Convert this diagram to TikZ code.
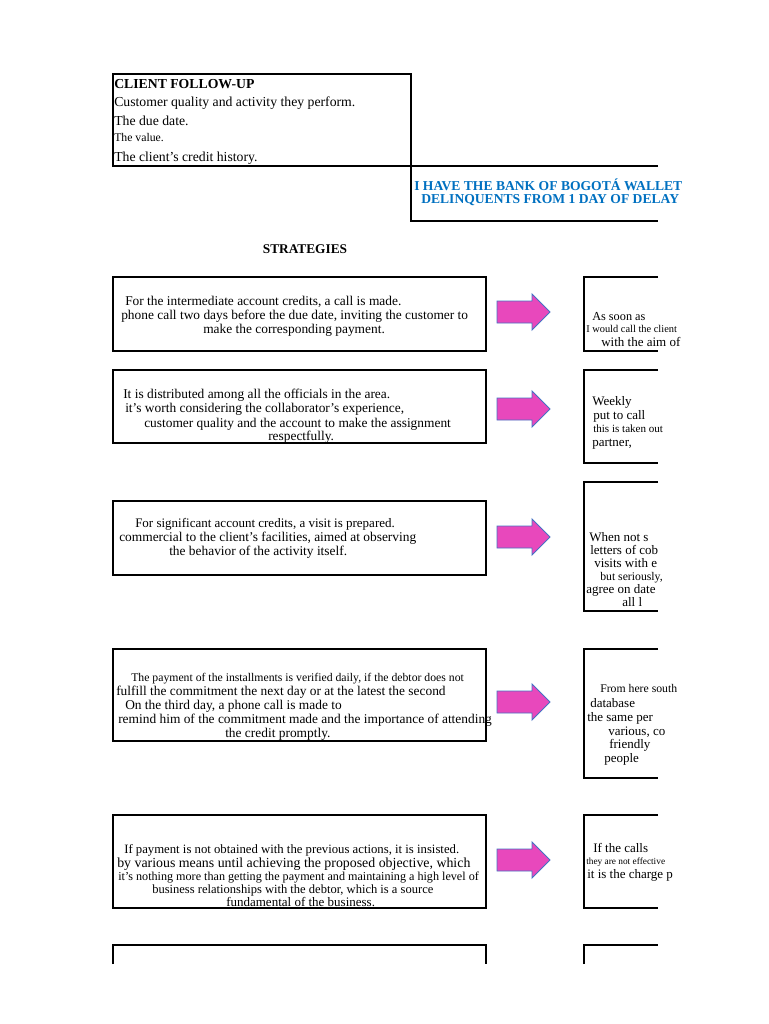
\documentclass[tikz,border=0pt]{standalone}
\usepackage{fontspec}
\setmainfont{Liberation Serif}
\definecolor{bankblue}{RGB}{0,112,192}
\definecolor{arrowfill}{RGB}{232,72,188}
\definecolor{arrowline}{RGB}{68,114,196}
\tikzset{
  box/.style={line width=1.6pt},
  txt/.style={anchor=base west, inner sep=0pt, font=\fontsize{9.75}{10}\selectfont},
  rowtxt/.style={txt, font=\fontsize{10.05}{11}\selectfont},
  smalltxt/.style={txt, font=\fontsize{8.8}{9}\selectfont},
  tinytxt/.style={txt, font=\fontsize{7}{8}\selectfont},
  headtxt/.style={txt, font=\fontsize{10.3}{11}\selectfont\bfseries},
  banktxt/.style={txt, text=bankblue, font=\fontsize{10.2}{11}\selectfont\bfseries},
  pinkarrow/.pic={\draw[arrowline, fill=arrowfill, line width=0.7pt]
    (0,-11) -- (35,-11) -- (35,-18) -- (53,0) -- (35,18) -- (35,11) -- (0,11) -- cycle;}
}
\begin{document}
\begin{tikzpicture}[x=0.75pt,y=-0.75pt]
\useasboundingbox (0,0) rectangle (768,1024);
% client follow-up
\draw[box] (113,74) rectangle (411,166);
\node[headtxt] (cf1) at (114,89) {CLIENT FOLLOW-UP};
\node[txt, font=\fontsize{10.3}{11}\selectfont] (cf2) at (114,107) {Customer quality and activity they perform.};
\node[txt, font=\fontsize{10.3}{11}\selectfont] (cf3) at (114,125) {The due date.};
\node[smalltxt] (cf4) at (114,142) {The value.};
\node[txt, font=\fontsize{10.3}{11}\selectfont] (cf5) at (114,161) {The client's credit history.};
% bank
\draw[box] (658,166) -- (411,166) -- (411,221) -- (658,221);
\node[banktxt] (bk1) at (414,190) {I HAVE THE BANK OF BOGOTÁ WALLET};
\node[banktxt] (bk2) at (421,203) {DELINQUENTS FROM 1 DAY OF DELAY};
\node[headtxt, anchor=base, font=\fontsize{10}{11}\selectfont\bfseries] (str) at (305,253) {STRATEGIES};
% strategy boxes
\draw[box] (113,277) rectangle (486,351);
\draw[box] (113,370) rectangle (486,443);
\draw[box] (113,501) rectangle (486,575);
\draw[box] (113,649) rectangle (486,741);
\draw[box] (113,815) rectangle (486,908);
\draw[box] (113,964) -- (113,945) -- (486,945) -- (486,964);
% action boxes, cut at the page edge
\draw[box] (658,277) -- (584,277) -- (584,351) -- (658,351);
\draw[box] (658,370) -- (584,370) -- (584,463) -- (658,463);
\draw[box] (658,482) -- (584,482) -- (584,611) -- (658,611);
\draw[box] (658,649) -- (584,649) -- (584,778) -- (658,778);
\draw[box] (658,815) -- (584,815) -- (584,908) -- (658,908);
\draw[box] (584,964) -- (584,945) -- (658,945);
% arrows
\pic at (497,312) {pinkarrow};
\pic at (497,409) {pinkarrow};
\pic at (497,537) {pinkarrow};
\pic at (497,702) {pinkarrow};
\pic at (497,860) {pinkarrow};
% row 1
\node[rowtxt] (s1a) at (125,305) {For the intermediate account credits, a call is made.};
\node[rowtxt] (s1b) at (121,319) {phone call two days before the due date, inviting the customer to};
\node[rowtxt] (s1c) at (203,333) {make the corresponding payment.};
\node[smalltxt, font=\fontsize{9.2}{10}\selectfont] (a1a) at (592,320) {As soon as};
\node[tinytxt, font=\fontsize{7.8}{8}\selectfont] (a1b) at (586,332) {I would call the client};
\node[txt] (a1c) at (601,346) {with the aim of};
% row 2
\node[rowtxt] (s2a) at (123,398) {It is distributed among all the officials in the area.};
\node[rowtxt] (s2b) at (125,412) {it's worth considering the collaborator's experience,};
\node[rowtxt] (s2c) at (144,427) {customer quality and the account to make the assignment};
\node[rowtxt] (s2d) at (268,440) {respectfully.};
\node[txt] (a2a) at (592,405) {Weekly};
\node[txt] (a2b) at (593,419) {put to call};
\node[smalltxt, font=\fontsize{8.3}{9}\selectfont] (a2c) at (593,432) {this is taken out};
\node[txt] (a2d) at (592,446) {partner,};
% row 3
\node[txt] (s3a) at (135,527) {For significant account credits, a visit is prepared.};
\node[rowtxt] (s3b) at (119,541) {commercial to the client's facilities, aimed at observing};
\node[rowtxt] (s3c) at (169,555) {the behavior of the activity itself.};
\node[txt] (a3a) at (589,541) {When not s};
\node[txt] (a3b) at (590,554) {letters of cob};
\node[txt] (a3c) at (594,567) {visits with e};
\node[smalltxt] (a3d) at (600,580) {but seriously,};
\node[txt] (a3e) at (586,593) {agree on date};
\node[txt] (a3f) at (622,606) {all l};
% row 4
\node[smalltxt] (s4a) at (131,681) {The payment of the installments is verified daily, if the debtor does not};
\node[rowtxt] (s4b) at (116,695) {fulfill the commitment the next day or at the latest the second};
\node[rowtxt] (s4c) at (125,709) {On the third day, a phone call is made to};
\node[rowtxt] (s4d) at (118,723) {remind him of the commitment made and the importance of attending};
\node[rowtxt] (s4e) at (225,737) {the credit promptly.};
\node[smalltxt] (a4a) at (600,692) {From here south};
\node[txt] (a4b) at (590,707) {database};
\node[txt] (a4c) at (587,721) {the same per};
\node[txt] (a4d) at (608,735) {various, co};
\node[txt] (a4e) at (609,748) {friendly};
\node[txt] (a4f) at (604,762) {people};
% row 5
\node[txt, font=\fontsize{9.55}{10}\selectfont] (s5a) at (124,853) {If payment is not obtained with the previous actions, it is insisted.};
\node[txt, font=\fontsize{10.4}{11}\selectfont] (s5b) at (117,867) {by various means until achieving the proposed objective, which};
\node[smalltxt, font=\fontsize{9.1}{10}\selectfont] (s5c) at (118,880) {it's nothing more than getting the payment and maintaining a high level of};
\node[txt, font=\fontsize{9.4}{10}\selectfont] (s5d) at (152,893) {business relationships with the debtor, which is a source};
\node[txt] (s5e) at (226,906) {fundamental of the business.};
\node[txt] (a5a) at (593,852) {If the calls};
\node[tinytxt] (a5b) at (586,864) {they are not effective};
\node[txt] (a5c) at (587,878) {it is the charge p};
\end{tikzpicture}
\end{document}
